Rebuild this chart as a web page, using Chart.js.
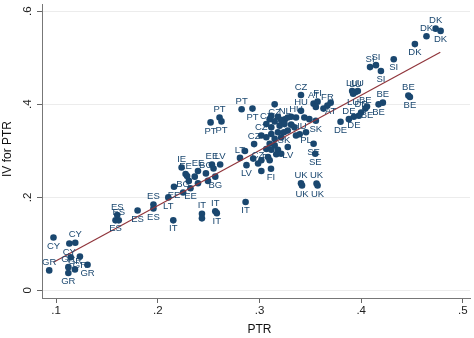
<!DOCTYPE html>
<html>
<head>
<meta charset="utf-8">
<script src="https://cdn.jsdelivr.net/npm/chart.js@4.4.1/dist/chart.umd.min.js"></script>
<style>
  html, body { margin: 0; padding: 0; background: #fff; }
</style>
</head>
<body>
<canvas id="chart1" width="474" height="338"></canvas>
<script>
// PTR (x) and IV for PTR (y), one entry per country-year
var ptr = [
  0.0974, 0.1130, 0.1188, 0.1143, 0.1234, 0.1120, 0.1185, 0.1309, 0.0932, 0.1120,
  0.1601, 0.1584, 0.1616, 0.1801, 0.1957, 0.1957, 0.2103,
  0.2152, 0.2434, 0.2434, 0.2565, 0.2580, 0.2863,
  0.2234, 0.2273, 0.2395, 0.2532, 0.2548, 0.2613, 0.2565, 0.2493, 0.2288, 0.2363,
  0.2159, 0.2249, 0.2321, 0.2395, 0.2305, 0.2473,
  0.2607, 0.2519, 0.2626, 0.2824, 0.2931,
  0.3149, 0.3249, 0.3116, 0.3181, 0.3100, 0.3149, 0.3213, 0.3278, 0.3311, 0.3067,
  0.3116, 0.3198, 0.3246, 0.3311, 0.3344, 0.3278, 0.3181, 0.3116, 0.3067, 0.3018,
  0.3149, 0.3213, 0.3240, 0.3359, 0.3395, 0.3457, 0.3100, 0.3149, 0.3067, 0.3116,
  0.3181, 0.3165, 0.3084, 0.3278, 0.3213, 0.3532, 0.3548, 0.2986, 0.2947, 0.3018,
  0.3100, 0.3113, 0.2872, 0.2808, 0.2857, 0.2938, 0.3018,
  0.3408, 0.3408, 0.3359, 0.3441, 0.3490, 0.3554, 0.3532, 0.3571, 0.3554, 0.3668,
  0.3700, 0.3629,
  0.3911, 0.3944, 0.3967, 0.3921, 0.4041, 0.3999, 0.4057, 0.3879, 0.3977, 0.3928,
  0.3797, 0.4171, 0.4213, 0.4464, 0.4479,
  0.4087, 0.4145, 0.4194, 0.4320,
  0.4528, 0.4642, 0.4732, 0.4781,
  0.3408, 0.3418, 0.3561, 0.3571
];
var ivPtr = [
  0.1136, 0.1009, 0.1024, 0.0712, 0.0727, 0.0500, 0.0452, 0.0551, 0.0430, 0.0373,
  0.1618, 0.1505, 0.1505, 0.1717, 0.1844, 0.1760, 0.1999,
  0.1505, 0.1645, 0.1548, 0.1702, 0.1660, 0.1900,
  0.2642, 0.2502, 0.2565, 0.2705, 0.2620, 0.2705, 0.2444, 0.2353, 0.2459, 0.2444,
  0.2226, 0.2105, 0.2196, 0.2302, 0.2353, 0.2514,
  0.3716, 0.3610, 0.3632, 0.3892, 0.3907,
  0.3998, 0.3674, 0.3752, 0.3731, 0.3680, 0.3632, 0.3659, 0.3716, 0.3731, 0.3574,
  0.3504, 0.3540, 0.3574, 0.3562, 0.3504, 0.3434, 0.3398, 0.3362, 0.3292, 0.3328,
  0.3256, 0.3292, 0.3398, 0.3328, 0.3356, 0.3398, 0.3150, 0.3116, 0.3038, 0.3023,
  0.3023, 0.2926, 0.2868, 0.3080, 0.2938, 0.3150, 0.2938, 0.2726, 0.3144, 0.2798,
  0.2798, 0.2614, 0.2692, 0.2847, 0.2996, 0.2832, 0.2565,
  0.4198, 0.3858, 0.3716, 0.3716, 0.3680, 0.3646, 0.4013, 0.4056, 0.3943, 0.3971,
  0.4034, 0.3907,
  0.4282, 0.4261, 0.4282, 0.4225, 0.3907, 0.3822, 0.3950, 0.3680, 0.3752, 0.3731,
  0.3625, 0.3998, 0.4034, 0.4189, 0.4155,
  0.4798, 0.4840, 0.4713, 0.4967,
  0.5292, 0.5461, 0.5624, 0.5576,
  0.2302, 0.2254, 0.2296, 0.2254
];
var country = [
  'CY', 'CY', 'CY', '', 'GR', 'GR', 'GR', 'GR', 'GR', 'GR',
  'ES', 'ES', 'ES', 'ES', 'ES', 'ES', 'LT',
  'IT', 'IT', '', 'IT', 'IT', 'IT',
  'IE', 'EE', 'EE', 'EE', '', 'LV', 'BG', '', '', '',
  'EE', 'BG', 'EE', '', '', 'BG',
  'PT', 'PT', 'PT', 'PT', 'PT',
  'CZ', 'NL', '', '', '', '', '', '', '', 'CZ',
  '', '', '', '', '', '', '', '', '', 'CZ',
  '', '', 'SK', '', 'HU', 'PL', '', '', 'FI', '',
  '', '', '', 'LV', '', 'SE', 'SE', 'CZ', 'CZ', '',
  '', 'FI', 'LV', 'LT', '', '', '',
  'CZ', 'HU', 'HU', '', '', 'SK', 'AT', 'FI', '', 'FR',
  'AT', '',
  'LU', 'LU', 'LU', 'LU', 'BE', 'DE', 'BE', 'DE', '', 'DE',
  'DE', 'BE', 'BE', 'BE', 'BE',
  'SI', 'SI', 'SI', 'SI',
  'DK', 'DK', 'DK', 'DK',
  'UK', 'UK', 'UK', 'UK'
];
// marker label side: a = above, b = below
var labelPos = [
  'b', 'b', 'a', '', 'b', 'a', 'a', 'b', 'a', 'b',
  'a', 'b', 'a', 'b', 'a', 'b', 'b',
  'b', 'a', '', 'a', 'b', 'b',
  'a', 'a', 'a', 'a', '', 'a', 'b', '', '', '',
  'b', 'a', 'b', '', '', 'a',
  'a', 'b', 'b', 'a', 'b',
  'b', 'a', '', '', '', '', '', '', '', 'a',
  '', '', '', '', '', '', '', '', '', 'a',
  '', '', 'b', '', 'a', 'b', '', '', 'b', '',
  '', '', '', 'b', '', 'b', 'b', 'a', 'a', '',
  '', 'b', 'b', 'a', '', '', '',
  'a', 'a', 'a', '', '', 'b', 'a', 'a', '', 'a',
  'b', '',
  'a', 'a', 'a', 'b', 'a', 'a', 'b', 'a', '', 'b',
  'b', 'b', 'a', 'a', 'b',
  'a', 'a', 'b', 'b',
  'b', 'a', 'a', 'b',
  'a', 'b', 'a', 'b'
];

// fitted line end points
var fitPtr = [0.0974, 0.4778];
var fitIv = [0.0606, 0.5116];

var xTicks = [0.1, 0.2, 0.3, 0.4, 0.5];
var xTickLabels = ['.1', '.2', '.3', '.4', '.5'];
var yTicks = [0, 0.2, 0.4, 0.6];
var yTickLabels = ['0', '.2', '.4', '.6'];

var navy = '#1a476f';
var maroon = '#90353b';
var font = '"Liberation Sans", Arial, sans-serif';

var pointLabels = {
  id: 'pointLabels',
  afterDatasetsDraw: function (chart) {
    var c = chart.ctx;
    var meta = chart.getDatasetMeta(1);
    c.save();
    c.font = '9.5px ' + font;
    c.fillStyle = navy;
    c.textAlign = 'center';
    c.textBaseline = 'middle';
    meta.data.forEach(function (pt, i) {
      if (!country[i]) return;
      var dy = labelPos[i] === 'a' ? -8 : 8.5;
      c.fillText(country[i], pt.x, pt.y + dy);
    });
    c.restore();
  }
};

var axisText = {
  id: 'axisText',
  afterDraw: function (chart) {
    var c = chart.ctx;
    var ys = chart.scales.y, xs = chart.scales.x;
    c.save();
    c.fillStyle = '#222';
    c.textAlign = 'center';
    c.textBaseline = 'middle';
    c.font = '11.5px ' + font;
    yTicks.forEach(function (v, i) {
      c.save();
      c.translate(28, ys.getPixelForValue(v));
      c.rotate(-Math.PI / 2);
      c.fillText(yTickLabels[i], 0, 0);
      c.restore();
    });
    c.fillStyle = '#111';
    c.font = '12px ' + font;
    c.fillText('PTR', xs.getPixelForValue(0.3), 330);
    c.save();
    c.translate(8, (chart.chartArea.top + chart.chartArea.bottom) / 2 - 2);
    c.rotate(-Math.PI / 2);
    c.fillText('IV for PTR', 0, 0);
    c.restore();
    c.restore();
  }
};

var ctx = document.getElementById('chart1').getContext('2d');
var myChart = new Chart(ctx, {
  type: 'scatter',
  data: {
    datasets: [{
      label: 'Fitted values',
      data: fitPtr.map(function (x, i) { return { x: x, y: fitIv[i] }; }),
      showLine: true,
      borderColor: maroon,
      borderWidth: 1.2,
      pointRadius: 0,
      order: 0
    }, {
      label: 'IV for PTR',
      data: ptr.map(function (x, i) { return { x: x, y: ivPtr[i] }; }),
      backgroundColor: navy,
      borderWidth: 0,
      pointRadius: 3.3,
      order: 1
    }]
  },
  options: {
    responsive: false,
    animation: false,
    layout: { padding: 0 },
    plugins: {
      legend: { display: false },
      tooltip: { enabled: false }
    },
    scales: {
      x: {
        type: 'linear',
        min: 0.0861,
        max: 0.507,
        afterBuildTicks: function (s) { s.ticks = xTicks.map(function (v) { return { value: v }; }); },
        afterFit: function (s) { s.height = 40; },
        ticks: {
          color: '#222',
          padding: 1,
          font: { family: font, size: 11.5 },
          maxRotation: 0,
          callback: function (v, i) { return xTickLabels[i]; }
        },
        grid: {
          drawOnChartArea: false,
          drawTicks: true,
          tickLength: 5,
          tickColor: '#666'
        },
        border: { display: true, color: '#777', width: 1 }
      },
      y: {
        type: 'linear',
        min: -0.0163,
        max: 0.6154,
        afterBuildTicks: function (s) { s.ticks = yTicks.map(function (v) { return { value: v }; }); },
        afterFit: function (s) { s.width = 42; },
        ticks: { display: false },
        grid: {
          color: '#ececec',
          lineWidth: 1,
          drawTicks: true,
          tickLength: 5,
          tickColor: '#666'
        },
        border: { display: true, color: '#777', width: 1 }
      }
    }
  },
  plugins: [pointLabels, axisText]
});
</script>
</body>
</html>
